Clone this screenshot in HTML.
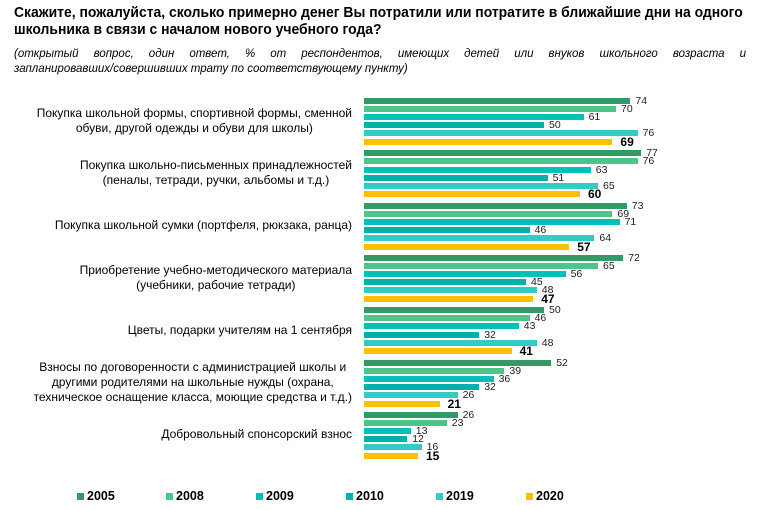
<!DOCTYPE html>
<html><head><meta charset="utf-8"><style>
body{margin:0;width:762px;height:510px;background:#fff;font-family:"Liberation Sans",sans-serif;color:#000;position:relative;overflow:hidden}
.t{position:absolute;left:14px;top:5px;width:800px;font-weight:bold;font-size:14.5px;line-height:17px;transform:scaleX(0.96);transform-origin:0 0;white-space:nowrap}
.s{position:absolute;left:14px;top:47px;width:732px;font-style:italic;font-size:11.5px;line-height:15px}
.s .j{text-align:justify;text-align-last:justify}
.l{position:absolute;right:410px;font-size:12px;line-height:15px;text-align:center;white-space:nowrap}
.b{position:absolute;left:364px;height:6px}
.v{position:absolute;font-size:10.5px;line-height:10px;color:#222}
.vb{font-weight:bold;font-size:12px;color:#000}
.lg{position:absolute;top:489px;font-size:12.5px;font-weight:bold}
.lg i{display:inline-block;width:7px;height:7px;margin-right:3px}
</style></head><body>
<div class="t">Скажите, пожалуйста, сколько примерно денег Вы потратили или потратите в ближайшие дни на одного<br>школьника в связи с началом нового учебного года?</div>
<div class="s"><div class="j">(открытый вопрос, один ответ, % от респондентов, имеющих детей или внуков школьного возраста и</div><div>запланировавших/совершивших трату по соответствующему пункту)</div></div>
<div id="c"></div>
<div class="lg" style="left:77px"><i style="background:#339966"></i>2005</div>
<div class="lg" style="left:166px"><i style="background:#4dc48a"></i>2008</div>
<div class="lg" style="left:256px"><i style="background:#00c0b8"></i>2009</div>
<div class="lg" style="left:346px"><i style="background:#00b0aa"></i>2010</div>
<div class="lg" style="left:436px"><i style="background:#33ccc4"></i>2019</div>
<div class="lg" style="left:526px"><i style="background:#ffc000"></i>2020</div>
<script>
var cols=["#339966","#4dc48a","#00c0b8","#00b0aa","#33ccc4","#ffc000"];
var d=[["Покупка школьной формы, спортивной формы, сменной<br>обуви, другой одежды и обуви для школы)",[74,70,61,50,76,69]],
["Покупка школьно-письменных принадлежностей<br>(пеналы, тетради, ручки, альбомы и т.д.)",[77,76,63,51,65,60]],
["Покупка школьной сумки (портфеля, рюкзака, ранца)",[73,69,71,46,64,57]],
["Приобретение учебно-методического материала<br>(учебники, рабочие тетради)",[72,65,56,45,48,47]],
["Цветы, подарки учителям на 1 сентября",[50,46,43,32,48,41]],
["Взносы по договоренности с администрацией школы и<br>другими родителями на школьные нужды (охрана,<br>техническое оснащение класса, моющие средства и т.д.)",[52,39,36,32,26,21]],
["Добровольный спонсорский взнос",[26,23,13,12,16,15]]];
var h="";
d.forEach(function(g,i){var y0=98+i*52.3;var n=g[0].split("<br>").length;
h+='<div class="l" style="top:'+(y0+23-n*7.5)+'px">'+g[0]+'</div>';
g[1].forEach(function(v,j){var y=y0+j*8.1+(j==5?0.5:0);var w=v*3.6;
h+='<div class="b" style="top:'+y+'px;width:'+w+'px;background:'+cols[j]+'"></div>';
h+='<div class="v'+(j==5?' vb':'')+'" style="top:'+(y-2)+'px;left:'+(364+w+(j==5?8:5))+'px">'+v+'</div>';});});
document.getElementById("c").innerHTML=h;
</script>
</body></html>
